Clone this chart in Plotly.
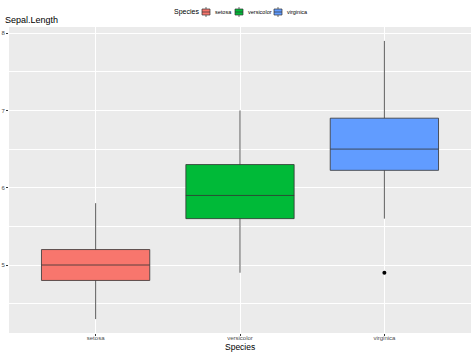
import plotly.graph_objects as go

species = ["setosa", "versicolor", "virginica"]
colors = ["#F8766D", "#00BA38", "#619CFF"]
lower = [4.3, 4.9, 5.6]
q1 = [4.8, 5.6, 6.225]
median = [5.0, 5.9, 6.5]
q3 = [5.2, 6.3, 6.9]
upper = [5.8, 7.0, 7.9]
outlier_species = [3]
outlier_values = [4.9]

W, H = 474, 353
ML, MR, MT, MB = 9, 3, 27, 20
PW, PH = W - ML - MR, H - MT - MB

def px(x):
    return (x - ML) / PW

def py(y):
    return (H - MB - y) / PH

fig = go.Figure()
for i, sp in enumerate(species):
    fig.add_trace(go.Box(
        x=[i + 1], q1=[q1[i]], median=[median[i]], q3=[q3[i]],
        lowerfence=[lower[i]], upperfence=[upper[i]],
        name=sp, fillcolor=colors[i], width=0.75, whiskerwidth=0,
        line=dict(color="#333333", width=0.8), boxpoints=False, showlegend=False,
    ))
fig.add_trace(go.Scatter(
    x=outlier_species, y=outlier_values, mode="markers",
    marker=dict(color="#000000", size=4), showlegend=False, hoverinfo="skip",
))

fig.update_layout(
    width=W, height=H,
    margin=dict(l=ML, r=MR, t=MT, b=MB, autoexpand=False),
    paper_bgcolor="white", plot_bgcolor="#EBEBEB",
    font=dict(family="Liberation Sans, Arial, sans-serif", color="#4D4D4D", size=7),
    showlegend=False,
)
fig.update_xaxes(range=[0.4, 3.6], tickvals=[1, 2, 3], ticktext=species,
                 showgrid=True, gridcolor="white", gridwidth=1.1, zeroline=False,
                 ticks="outside", ticklen=2, tickcolor="#333333",
                 tickfont=dict(size=6, color="#4D4D4D"), ticklabelstandoff=-3)
fig.update_yaxes(range=[4.12, 8.08], tickvals=[5, 6, 7, 8],
                 showgrid=True, gridcolor="white", gridwidth=1.1, zeroline=False,
                 ticks="outside", ticklen=2, tickcolor="#333333",
                 tickfont=dict(size=6, color="#4D4D4D"),
                 minor=dict(showgrid=True, gridcolor="white", gridwidth=0.5, tickvals=[4.5, 5.5, 6.5, 7.5]))
fig.add_annotation(text="Sepal.Length", xref="paper", yref="paper", x=px(3), y=py(20),
                   xanchor="left", yanchor="middle", showarrow=False,
                   font=dict(size=9, color="#000000"))
fig.add_annotation(text="Species", xref="paper", yref="paper", x=0.5, y=py(347),
                   xanchor="center", yanchor="middle", showarrow=False,
                   font=dict(size=8.5, color="#000000"))

# manual compact legend (ggplot style)
leg_y = 12
fig.add_annotation(text="Species", xref="paper", yref="paper", x=px(172), y=py(leg_y),
                   xanchor="left", yanchor="middle", showarrow=False,
                   font=dict(size=7, color="#000000"))
key_x = [202, 235, 274]
for i, sp in enumerate(species):
    x0, x1 = key_x[i], key_x[i] + 8
    xc = (x0 + x1) / 2
    fig.add_shape(type="rect", xref="paper", yref="paper",
                  x0=px(x0), x1=px(x1), y0=py(leg_y + 3), y1=py(leg_y - 3),
                  fillcolor=colors[i], line=dict(color="#333333", width=0.7))
    fig.add_shape(type="line", xref="paper", yref="paper",
                  x0=px(x0), x1=px(x1), y0=py(leg_y), y1=py(leg_y),
                  line=dict(color="#333333", width=0.7))
    for (a, b) in [(leg_y - 5, leg_y - 3), (leg_y + 3, leg_y + 5)]:
        fig.add_shape(type="line", xref="paper", yref="paper",
                      x0=px(xc), x1=px(xc), y0=py(a), y1=py(b),
                      line=dict(color="#333333", width=0.7))
    fig.add_annotation(text=sp, xref="paper", yref="paper", x=px(x1 + 3), y=py(leg_y),
                       xanchor="left", yanchor="middle", showarrow=False,
                       font=dict(size=5.5, color="#000000"))

fig.write_html("out.html")
